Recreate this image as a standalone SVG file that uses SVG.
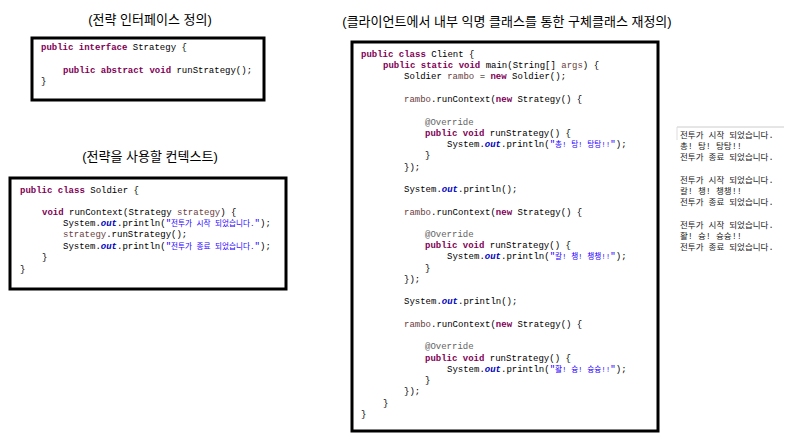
<svg xmlns="http://www.w3.org/2000/svg" width="800" height="444" viewBox="0 0 800 444">
<style>
.t{font-family:"Liberation Sans","Noto Sans CJK KR",sans-serif;font-size:13px;fill:#000}
.c{font-family:"Liberation Mono","Noto Sans CJK KR",monospace;font-size:9px;fill:#000;white-space:pre}
.o{font-family:"Liberation Mono","Noto Sans CJK KR",monospace;font-size:8.5px;fill:#222}
.k{fill:#7f0055;font-weight:bold}
.f{fill:#0000c0;font-style:italic;font-weight:bold}
.s{fill:#2a00ff}
.h{fill:#2a00ff;font-size:7.6px}
.a{fill:#646464}
.v{fill:#6a3e3e}
.box{fill:#fff;stroke:#000;stroke-width:3}
</style>
<rect width="800" height="444" fill="#fff"/>
<g id="interface">
<text class="t" x="150" y="24" text-anchor="middle">(전략 인터페이스 정의)</text>
<rect class="box" x="32" y="38" width="232" height="62"/>
<text class="c" x="41" y="50"><tspan class="k">public</tspan> <tspan class="k">interface</tspan> Strategy {</text>
<text class="c" x="63" y="73"><tspan class="k">public</tspan> <tspan class="k">abstract</tspan> <tspan class="k">void</tspan> runStrategy();</text>
<text class="c" x="41" y="84">}</text>
</g>
<g id="soldier">
<text class="t" x="150" y="161" text-anchor="middle">(전략을 사용할 컨텍스트)</text>
<rect class="box" x="10" y="178" width="276" height="111"/>
<text class="c" x="20" y="193"><tspan class="k">public</tspan> <tspan class="k">class</tspan> Soldier {</text>
<text class="c" x="42" y="215"><tspan class="k">void</tspan> runContext(Strategy <tspan class="v">strategy</tspan>) {</text>
<text class="c" x="63" y="226">System.<tspan class="f">out</tspan>.println(<tspan class="s">"</tspan><tspan class="h">전투가 시작 되었습니다.</tspan><tspan class="s">"</tspan>);</text>
<text class="c" x="63" y="237"><tspan class="v">strategy</tspan>.runStrategy();</text>
<text class="c" x="63" y="249">System.<tspan class="f">out</tspan>.println(<tspan class="s">"</tspan><tspan class="h">전투가 종료 되었습니다.</tspan><tspan class="s">"</tspan>);</text>
<text class="c" x="42" y="260">}</text>
<text class="c" x="20" y="272">}</text>
</g>
<g id="client">
<text class="t" x="507" y="26" text-anchor="middle">(클라이언트에서 내부 익명 클래스를 통한 구체클래스 재정의)</text>
<rect class="box" x="352" y="42" width="306" height="389"/>
<text class="c" x="361" y="57"><tspan class="k">public</tspan> <tspan class="k">class</tspan> Client {</text>
<text class="c" x="383" y="68"><tspan class="k">public</tspan> <tspan class="k">static</tspan> <tspan class="k">void</tspan> main(String[] <tspan class="v">args</tspan>) {</text>
<text class="c" x="404" y="79">Soldier <tspan class="v">rambo</tspan> = <tspan class="k">new</tspan> Soldier();</text>
<text class="c" x="404" y="102"><tspan class="v">rambo</tspan>.runContext(<tspan class="k">new</tspan> Strategy() {</text>
<text class="c a" x="425" y="125">@Override</text>
<text class="c" x="425" y="136"><tspan class="k">public</tspan> <tspan class="k">void</tspan> runStrategy() {</text>
<text class="c" x="447" y="147">System.<tspan class="f">out</tspan>.println(<tspan class="s">"</tspan><tspan class="h">총! 탕! 탕탕!!</tspan><tspan class="s">"</tspan>);</text>
<text class="c" x="425" y="158">}</text>
<text class="c" x="404" y="170">});</text>
<text class="c" x="404" y="192">System.<tspan class="f">out</tspan>.println();</text>
<text class="c" x="404" y="215"><tspan class="v">rambo</tspan>.runContext(<tspan class="k">new</tspan> Strategy() {</text>
<text class="c a" x="425" y="237">@Override</text>
<text class="c" x="425" y="248"><tspan class="k">public</tspan> <tspan class="k">void</tspan> runStrategy() {</text>
<text class="c" x="447" y="259">System.<tspan class="f">out</tspan>.println(<tspan class="s">"</tspan><tspan class="h">칼! 챙! 챙챙!!</tspan><tspan class="s">"</tspan>);</text>
<text class="c" x="425" y="271">}</text>
<text class="c" x="404" y="282">});</text>
<text class="c" x="404" y="304">System.<tspan class="f">out</tspan>.println();</text>
<text class="c" x="404" y="327"><tspan class="v">rambo</tspan>.runContext(<tspan class="k">new</tspan> Strategy() {</text>
<text class="c a" x="425" y="349">@Override</text>
<text class="c" x="425" y="361"><tspan class="k">public</tspan> <tspan class="k">void</tspan> runStrategy() {</text>
<text class="c" x="447" y="372">System.<tspan class="f">out</tspan>.println(<tspan class="s">"</tspan><tspan class="h">활! 슝! 슝슝!!</tspan><tspan class="s">"</tspan>);</text>
<text class="c" x="425" y="383">}</text>
<text class="c" x="404" y="394">});</text>
<text class="c" x="383" y="406">}</text>
<text class="c" x="361" y="417">}</text>
</g>
<g id="output">
<line x1="677" y1="127" x2="784" y2="127" stroke="#ccc"/>
<line x1="677" y1="127" x2="677" y2="140" stroke="#ddd"/>
<text class="o" x="680" y="138">전투가 시작 되었습니다.</text>
<text class="o" x="680" y="149">총! 탕! 탕탕!!</text>
<text class="o" x="680" y="160">전투가 종료 되었습니다.</text>
<text class="o" x="680" y="183">전투가 시작 되었습니다.</text>
<text class="o" x="680" y="194">칼! 챙! 챙챙!!</text>
<text class="o" x="680" y="205">전투가 종료 되었습니다.</text>
<text class="o" x="680" y="228">전투가 시작 되었습니다.</text>
<text class="o" x="680" y="239">활! 슝! 슝슝!!</text>
<text class="o" x="680" y="250">전투가 종료 되었습니다.</text>
</g>
</svg>
